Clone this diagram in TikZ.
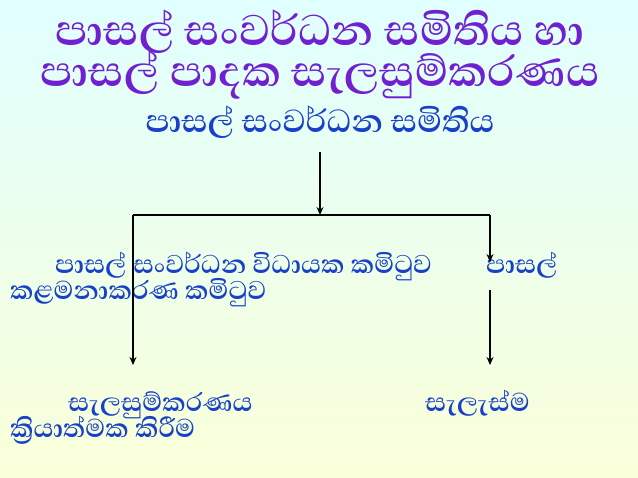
\documentclass[tikz,border=0pt]{standalone}
\usepackage{fontspec}
\newfontfamily\sinhala[Script=Sinhala]{Abhaya Libre}
\usetikzlibrary{arrows.meta, positioning}
\definecolor{titlepurple}{RGB}{112,32,208}
\definecolor{textblue}{RGB}{24,64,200}
\tikzset{
  title/.style={text=titlepurple, font=\sinhala\bfseries\fontsize{55}{57}\selectfont, inner sep=0pt, text height=0.45em, text depth=0.1em},
  label/.style={text=textblue, font=\sinhala\bfseries\fontsize{33}{35}\selectfont, inner sep=0pt, text height=0.45em, text depth=0.1em},
  link/.style={-{Stealth[length=8pt,width=7pt]}, line width=1.1pt}
}
\begin{document}
\begin{tikzpicture}[x=1pt, y=1pt]

\shade[top color=cyan!12, bottom color=green!15!yellow!15] (0,0) rectangle (638,478);
\useasboundingbox (0,0) rectangle (638,478);

\node (t1) [title] at (320,434) {පාසල් සංවර්ධන සමිතිය හා};
\node (t2) [title] at (320,393) {පාසල් පාදක සැලසුම්කරණය};
\node (sub) [label, font=\sinhala\bfseries\fontsize{41}{43}\selectfont] at (320,347) {පාසල් සංවර්ධන සමිතිය};

\coordinate (mid) at (320,263);
\coordinate (left) at (133,263);
\coordinate (right) at (490,263);

\node (exec) [label, anchor=west] at (55,206) {පාසල් සංවර්ධන විධායක කමිටුව};
\node (mgmt) [label, anchor=west] at (10,180) {කළමනාකරණ කමිටුව};
\node (school) [label, anchor=west] at (486,206) {පාසල්};
\coordinate (sbelow) at (490,188);

\node (plan1) [label, anchor=west] at (68,68) {සැලසුම්කරණය};
\node (plan2) [label, anchor=west] at (10,42) {ක්‍රියාත්මක කිරීම};
\node (plan) [label, anchor=west] at (425,68) {සැලැස්ම};

\draw [link] (320,326) -- (mid);
\draw [line width=1.1pt] (left) -- (right);
\draw [link] (left) -- (133,113);
\draw [link] (right) -- (490,216);
\draw [link] (sbelow) -- (490,113);

\end{tikzpicture}
\end{document}
